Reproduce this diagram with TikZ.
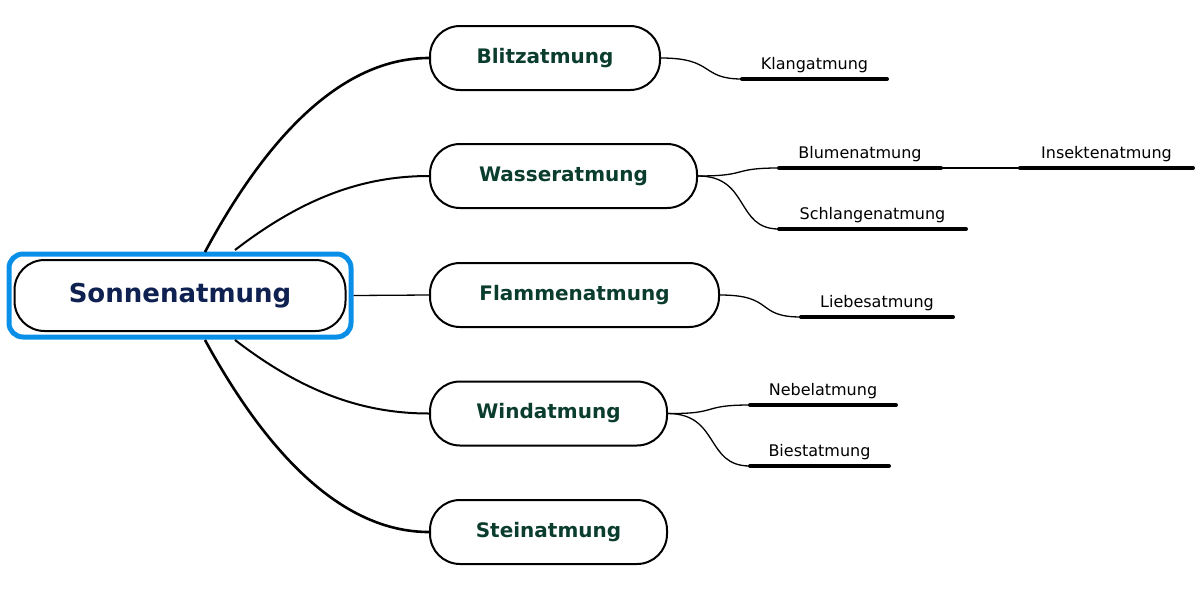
\documentclass[tikz,border=0pt]{standalone}
\usepackage{fontspec}
\setmainfont{DejaVu Sans}
\begin{document}
\begin{tikzpicture}[x=1pt,y=-1pt,
  main/.style={draw=black,line width=2pt,rounded corners=30pt,fill=white,font=\bfseries\fontsize{20}{24}\selectfont,text=green!30!black!90!blue,inner sep=0pt},
  leaf/.style={anchor=south,inner xsep=0pt,inner ysep=6pt,text height=12pt,text depth=3pt,font=\fontsize{16}{19}\selectfont},
  bar/.style={line width=3.5pt,line cap=round},
  lnk/.style={line width=1.3pt},
  big/.style={line width=2.6pt}]
\definecolor{gtxt}{HTML}{0B3D2E}
\definecolor{ntxt}{HTML}{0F2150}
\definecolor{blu}{HTML}{0A8FE8}
\useasboundingbox (0,0) rectangle (1200,592);
% root
\node[draw=blu,line width=5pt,rounded corners=14pt,minimum width=342pt,minimum height=83pt] (rootframe) at (180,295.5) {};
\node[main,text=ntxt,minimum width=331pt,minimum height=71pt,font=\bfseries\fontsize{26}{30}\selectfont] (root) at (180,295.5) {Sonnenatmung};
% children
\tikzset{main/.append style={text=gtxt,minimum height=64pt}}
\node[main,minimum width=230pt] (b) at (545,58) {Blitzatmung};
\node[main,minimum width=267pt] (w) at (563.5,176) {Wasseratmung};
\node[main,minimum width=289pt] (f) at (574.5,295) {Flammenatmung};
\node[main,minimum width=237pt] (wi) at (548.5,413.5) {Windatmung};
\node[main,minimum width=237pt] (s) at (548.5,532) {Steinatmung};
% root connectors
\coordinate (r1) at (205,252);
\coordinate (r2) at (235,250);
\coordinate (r4) at (235,340);
\coordinate (r5) at (205,340);
\draw[big] (r1) .. controls (265,140) and (340,58) .. (b.west);
\draw[lnk,line width=2pt] (r2) .. controls (300,200) and (360,176) .. (w.west);
\draw[lnk] (rootframe.east) -- (f.west);
\draw[lnk,line width=2pt] (r4) .. controls (300,390) and (360,413.5) .. (wi.west);
\draw[big] (r5) .. controls (265,450) and (340,532) .. (s.west);
% leaves
\node[leaf,minimum width=145pt] (kl) at (814.5,79) {Klangatmung};
\node[leaf,minimum width=162pt] (bl) at (860,168) {Blumenatmung};
\node[leaf,minimum width=173pt] (in) at (1106.5,168) {Insektenatmung};
\node[leaf,minimum width=187pt] (sc) at (872.5,229) {Schlangenatmung};
\node[leaf,minimum width=152pt] (li) at (877,317) {Liebesatmung};
\node[leaf,minimum width=146pt] (ne) at (823,405) {Nebelatmung};
\node[leaf,minimum width=139pt] (bi) at (819.5,466) {Biestatmung};
\foreach \n in {kl,bl,in,sc,li,ne,bi}
  \draw[bar] (\n.south west) -- (\n.south east);
\draw[lnk] (b.east) .. controls (715,58) and (700,79) .. (kl.south west);
\draw[lnk] (w.east) .. controls (750,176) and (730,168) .. (bl.south west);
\draw[lnk] (w.east) .. controls (750,176) and (735,229) .. (sc.south west);
\draw[lnk] (bl.south east) -- (in.south west);
\draw[lnk] (f.east) .. controls (775,295) and (755,317) .. (li.south west);
\draw[lnk] (wi.east) .. controls (720,414) and (700,405) .. (ne.south west);
\draw[lnk] (wi.east) .. controls (720,414) and (705,466) .. (bi.south west);
\end{tikzpicture}
\end{document}
